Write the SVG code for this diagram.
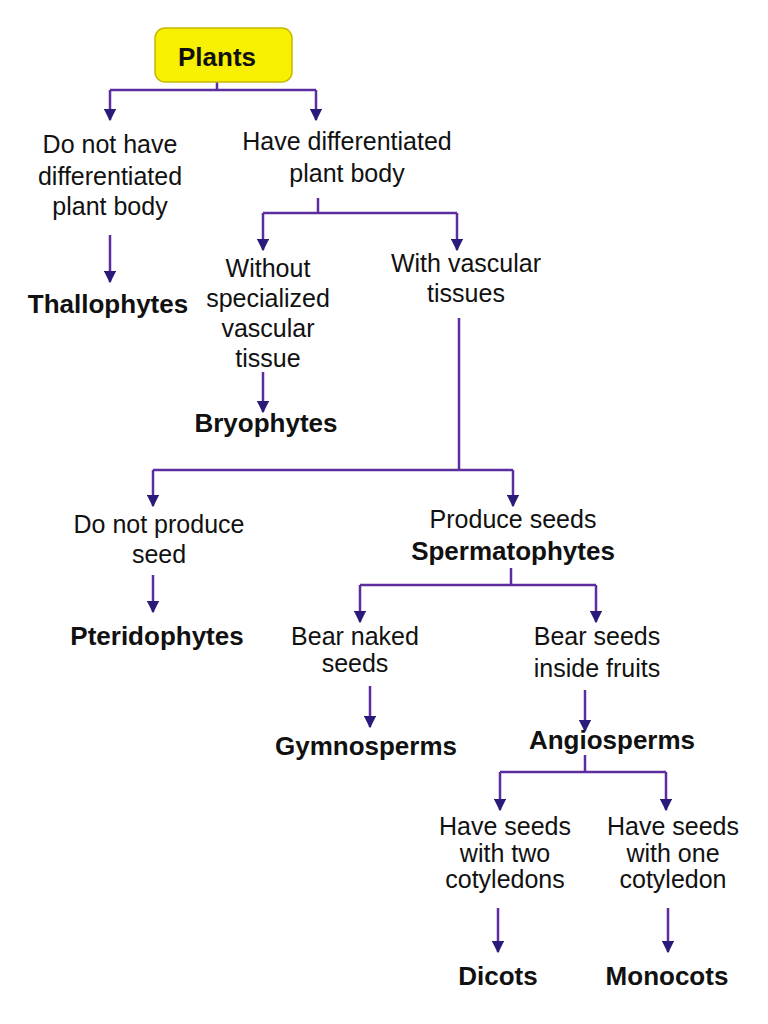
<svg xmlns="http://www.w3.org/2000/svg" width="768" height="1024" viewBox="0 0 768 1024">
<style>
text{font-family:"Liberation Sans",Arial,sans-serif;font-size:25px;fill:#111;text-anchor:middle}
.b{font-weight:bold;font-size:26px}
.c{fill:none;stroke:#5b2d9e;stroke-width:2.5}
</style>
<defs><marker id="a" viewBox="0 0 10 10" refX="9" refY="5" markerWidth="5" markerHeight="5" orient="auto"><path d="M0,0L10,5L0,10z" fill="#2a1a7a"/></marker></defs>
<rect width="768" height="1024" fill="#fff"/>
<g id="connectors">
<path class="c" d="M217,82V90M110,90H316"/>
<path class="c" d="M110,90V120" marker-end="url(#a)"/>
<path class="c" d="M316,90V120" marker-end="url(#a)"/>
<path class="c" d="M110,235V282" marker-end="url(#a)"/>
<path class="c" d="M318,198V213M263,213H457"/>
<path class="c" d="M263,213V250" marker-end="url(#a)"/>
<path class="c" d="M457,213V250" marker-end="url(#a)"/>
<path class="c" d="M263,372V412" marker-end="url(#a)"/>
<path class="c" d="M459,318V470M153,470H513"/>
<path class="c" d="M153,470V506" marker-end="url(#a)"/>
<path class="c" d="M513,470V506" marker-end="url(#a)"/>
<path class="c" d="M153,575V612" marker-end="url(#a)"/>
<path class="c" d="M511,568V585M360,585H596"/>
<path class="c" d="M360,585V622" marker-end="url(#a)"/>
<path class="c" d="M596,585V622" marker-end="url(#a)"/>
<path class="c" d="M370,686V727" marker-end="url(#a)"/>
<path class="c" d="M585,690V731" marker-end="url(#a)"/>
<path class="c" d="M585,755V772M500,772H666"/>
<path class="c" d="M500,772V810" marker-end="url(#a)"/>
<path class="c" d="M666,772V810" marker-end="url(#a)"/>
<path class="c" d="M498,908V952" marker-end="url(#a)"/>
<path class="c" d="M668,908V952" marker-end="url(#a)"/>
</g>
<g id="plants"><rect x="155" y="28" width="137" height="54" rx="10" fill="#f7f000" stroke="#c8b800" stroke-width="1.5"/><text class="b" x="217" y="66">Plants</text></g>
<g id="no-diff"><text x="110" y="153">Do not have</text><text x="110" y="185">differentiated</text><text x="110" y="215">plant body</text></g>
<g id="thallophytes"><text class="b" x="108" y="313">Thallophytes</text></g>
<g id="diff"><text x="347" y="150">Have differentiated</text><text x="347" y="182">plant body</text></g>
<g id="without"><text x="268" y="277">Without</text><text x="268" y="307">specialized</text><text x="268" y="337">vascular</text><text x="268" y="367">tissue</text></g>
<g id="bryophytes"><text class="b" x="266" y="432">Bryophytes</text></g>
<g id="with"><text x="466" y="272">With vascular</text><text x="466" y="302">tissues</text></g>
<g id="noseed"><text x="159" y="533">Do not produce</text><text x="159" y="563">seed</text></g>
<g id="pteridophytes"><text class="b" x="157" y="645">Pteridophytes</text></g>
<g id="seeds"><text x="513" y="528">Produce seeds</text><text class="b" x="513" y="560">Spermatophytes</text></g>
<g id="naked"><text x="355" y="645">Bear naked</text><text x="355" y="672">seeds</text></g>
<g id="gymnosperms"><text class="b" x="366" y="755">Gymnosperms</text></g>
<g id="fruits"><text x="597" y="645">Bear seeds</text><text x="597" y="677">inside fruits</text></g>
<g id="angiosperms"><text class="b" x="612" y="749">Angiosperms</text></g>
<g id="two"><text x="505" y="835">Have seeds</text><text x="505" y="862">with two</text><text x="505" y="888">cotyledons</text></g>
<g id="one"><text x="673" y="835">Have seeds</text><text x="673" y="862">with one</text><text x="673" y="888">cotyledon</text></g>
<g id="dicots"><text class="b" x="498" y="985">Dicots</text></g>
<g id="monocots"><text class="b" x="667" y="985">Monocots</text></g>
</svg>
